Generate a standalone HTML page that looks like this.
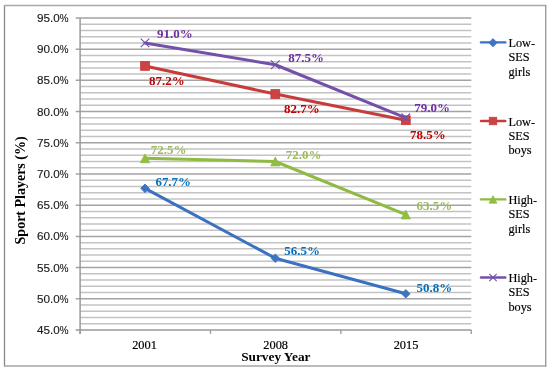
<!DOCTYPE html>
<html><head><meta charset="utf-8"><title>Sport Players chart</title>
<style>
html,body{margin:0;padding:0;background:#fff;}
svg{display:block;}
.yl{font-family:"Liberation Sans",sans-serif;font-size:11.7px;fill:#1a1a1a;stroke:#1a1a1a;stroke-width:0.15px;text-anchor:end;}
.xl{font-family:"Liberation Serif",serif;font-size:13.3px;fill:#000;stroke:#000;stroke-width:0.2px;text-anchor:middle;}
.xt{font-family:"Liberation Serif",serif;font-size:13.3px;font-weight:bold;fill:#000;text-anchor:middle;}
.yt{font-family:"Liberation Serif",serif;font-size:14px;font-weight:bold;fill:#000;text-anchor:middle;}
.dl{font-family:"Liberation Serif",serif;font-size:12.6px;font-weight:bold;}
.lg{font-family:"Liberation Serif",serif;font-size:12.3px;fill:#000;stroke:#000;stroke-width:0.15px;}
</style></head>
<body>
<svg width="550" height="371" viewBox="0 0 550 371">
<rect x="0" y="0" width="550" height="371" fill="#fff"/>
<line x1="4.5" y1="5" x2="4.5" y2="366.6" stroke="#878787" stroke-width="1.3"/>
<line x1="4" y1="5.6" x2="546.3" y2="5.6" stroke="#a9a9a9" stroke-width="1.5"/>
<line x1="545.7" y1="5" x2="545.7" y2="366.6" stroke="#9c9c9c" stroke-width="1.4"/>
<line x1="4" y1="366.1" x2="546.3" y2="366.1" stroke="#a5a5a5" stroke-width="1.5"/>
<line x1="75.70" y1="330.00" x2="471.30" y2="330.00" stroke="#9a9a9a" stroke-width="1.5"/>
<line x1="80.10" y1="323.76" x2="471.30" y2="323.76" stroke="#c3c3c3" stroke-width="1.5"/>
<line x1="80.10" y1="317.52" x2="471.30" y2="317.52" stroke="#c3c3c3" stroke-width="1.5"/>
<line x1="80.10" y1="311.28" x2="471.30" y2="311.28" stroke="#c3c3c3" stroke-width="1.5"/>
<line x1="80.10" y1="305.04" x2="471.30" y2="305.04" stroke="#c3c3c3" stroke-width="1.5"/>
<line x1="75.70" y1="298.79" x2="471.30" y2="298.79" stroke="#a3a3a3" stroke-width="1.5"/>
<line x1="80.10" y1="292.55" x2="471.30" y2="292.55" stroke="#c3c3c3" stroke-width="1.5"/>
<line x1="80.10" y1="286.31" x2="471.30" y2="286.31" stroke="#c3c3c3" stroke-width="1.5"/>
<line x1="80.10" y1="280.07" x2="471.30" y2="280.07" stroke="#c3c3c3" stroke-width="1.5"/>
<line x1="80.10" y1="273.83" x2="471.30" y2="273.83" stroke="#c3c3c3" stroke-width="1.5"/>
<line x1="75.70" y1="267.59" x2="471.30" y2="267.59" stroke="#a3a3a3" stroke-width="1.5"/>
<line x1="80.10" y1="261.35" x2="471.30" y2="261.35" stroke="#c3c3c3" stroke-width="1.5"/>
<line x1="80.10" y1="255.11" x2="471.30" y2="255.11" stroke="#c3c3c3" stroke-width="1.5"/>
<line x1="80.10" y1="248.87" x2="471.30" y2="248.87" stroke="#c3c3c3" stroke-width="1.5"/>
<line x1="80.10" y1="242.63" x2="471.30" y2="242.63" stroke="#c3c3c3" stroke-width="1.5"/>
<line x1="75.70" y1="236.38" x2="471.30" y2="236.38" stroke="#a3a3a3" stroke-width="1.5"/>
<line x1="80.10" y1="230.14" x2="471.30" y2="230.14" stroke="#c3c3c3" stroke-width="1.5"/>
<line x1="80.10" y1="223.90" x2="471.30" y2="223.90" stroke="#c3c3c3" stroke-width="1.5"/>
<line x1="80.10" y1="217.66" x2="471.30" y2="217.66" stroke="#c3c3c3" stroke-width="1.5"/>
<line x1="80.10" y1="211.42" x2="471.30" y2="211.42" stroke="#c3c3c3" stroke-width="1.5"/>
<line x1="75.70" y1="205.18" x2="471.30" y2="205.18" stroke="#a3a3a3" stroke-width="1.5"/>
<line x1="80.10" y1="198.94" x2="471.30" y2="198.94" stroke="#c3c3c3" stroke-width="1.5"/>
<line x1="80.10" y1="192.70" x2="471.30" y2="192.70" stroke="#c3c3c3" stroke-width="1.5"/>
<line x1="80.10" y1="186.46" x2="471.30" y2="186.46" stroke="#c3c3c3" stroke-width="1.5"/>
<line x1="80.10" y1="180.22" x2="471.30" y2="180.22" stroke="#c3c3c3" stroke-width="1.5"/>
<line x1="75.70" y1="173.97" x2="471.30" y2="173.97" stroke="#a3a3a3" stroke-width="1.5"/>
<line x1="80.10" y1="167.73" x2="471.30" y2="167.73" stroke="#c3c3c3" stroke-width="1.5"/>
<line x1="80.10" y1="161.49" x2="471.30" y2="161.49" stroke="#c3c3c3" stroke-width="1.5"/>
<line x1="80.10" y1="155.25" x2="471.30" y2="155.25" stroke="#c3c3c3" stroke-width="1.5"/>
<line x1="80.10" y1="149.01" x2="471.30" y2="149.01" stroke="#c3c3c3" stroke-width="1.5"/>
<line x1="75.70" y1="142.77" x2="471.30" y2="142.77" stroke="#a3a3a3" stroke-width="1.5"/>
<line x1="80.10" y1="136.53" x2="471.30" y2="136.53" stroke="#c3c3c3" stroke-width="1.5"/>
<line x1="80.10" y1="130.29" x2="471.30" y2="130.29" stroke="#c3c3c3" stroke-width="1.5"/>
<line x1="80.10" y1="124.05" x2="471.30" y2="124.05" stroke="#c3c3c3" stroke-width="1.5"/>
<line x1="80.10" y1="117.81" x2="471.30" y2="117.81" stroke="#c3c3c3" stroke-width="1.5"/>
<line x1="75.70" y1="111.56" x2="471.30" y2="111.56" stroke="#a3a3a3" stroke-width="1.5"/>
<line x1="80.10" y1="105.32" x2="471.30" y2="105.32" stroke="#c3c3c3" stroke-width="1.5"/>
<line x1="80.10" y1="99.08" x2="471.30" y2="99.08" stroke="#c3c3c3" stroke-width="1.5"/>
<line x1="80.10" y1="92.84" x2="471.30" y2="92.84" stroke="#c3c3c3" stroke-width="1.5"/>
<line x1="80.10" y1="86.60" x2="471.30" y2="86.60" stroke="#c3c3c3" stroke-width="1.5"/>
<line x1="75.70" y1="80.36" x2="471.30" y2="80.36" stroke="#a3a3a3" stroke-width="1.5"/>
<line x1="80.10" y1="74.12" x2="471.30" y2="74.12" stroke="#c3c3c3" stroke-width="1.5"/>
<line x1="80.10" y1="67.88" x2="471.30" y2="67.88" stroke="#c3c3c3" stroke-width="1.5"/>
<line x1="80.10" y1="61.64" x2="471.30" y2="61.64" stroke="#c3c3c3" stroke-width="1.5"/>
<line x1="80.10" y1="55.40" x2="471.30" y2="55.40" stroke="#c3c3c3" stroke-width="1.5"/>
<line x1="75.70" y1="49.16" x2="471.30" y2="49.16" stroke="#a3a3a3" stroke-width="1.5"/>
<line x1="80.10" y1="42.91" x2="471.30" y2="42.91" stroke="#c3c3c3" stroke-width="1.5"/>
<line x1="80.10" y1="36.67" x2="471.30" y2="36.67" stroke="#c3c3c3" stroke-width="1.5"/>
<line x1="80.10" y1="30.43" x2="471.30" y2="30.43" stroke="#c3c3c3" stroke-width="1.5"/>
<line x1="80.10" y1="24.19" x2="471.30" y2="24.19" stroke="#c3c3c3" stroke-width="1.5"/>
<line x1="75.70" y1="17.95" x2="471.30" y2="17.95" stroke="#a3a3a3" stroke-width="1.5"/>
<line x1="80.10" y1="17.95" x2="80.10" y2="333.90" stroke="#9a9a9a" stroke-width="1.5"/>
<line x1="80.10" y1="330.00" x2="80.10" y2="333.90" stroke="#9a9a9a" stroke-width="1.3"/>
<line x1="210.50" y1="330.00" x2="210.50" y2="333.90" stroke="#9a9a9a" stroke-width="1.3"/>
<line x1="340.90" y1="330.00" x2="340.90" y2="333.90" stroke="#9a9a9a" stroke-width="1.3"/>
<line x1="471.30" y1="330.00" x2="471.30" y2="333.90" stroke="#9a9a9a" stroke-width="1.3"/>
<text transform="translate(59.80,333.95) scale(1.0,1)" class="yl">45.0</text>
<text transform="translate(68.40,333.95) scale(0.84,1)" class="yl">%</text>
<text transform="translate(59.80,302.74) scale(1.0,1)" class="yl">50.0</text>
<text transform="translate(68.40,302.74) scale(0.84,1)" class="yl">%</text>
<text transform="translate(59.80,271.54) scale(1.0,1)" class="yl">55.0</text>
<text transform="translate(68.40,271.54) scale(0.84,1)" class="yl">%</text>
<text transform="translate(59.80,240.33) scale(1.0,1)" class="yl">60.0</text>
<text transform="translate(68.40,240.33) scale(0.84,1)" class="yl">%</text>
<text transform="translate(59.80,209.13) scale(1.0,1)" class="yl">65.0</text>
<text transform="translate(68.40,209.13) scale(0.84,1)" class="yl">%</text>
<text transform="translate(59.80,177.92) scale(1.0,1)" class="yl">70.0</text>
<text transform="translate(68.40,177.92) scale(0.84,1)" class="yl">%</text>
<text transform="translate(59.80,146.72) scale(1.0,1)" class="yl">75.0</text>
<text transform="translate(68.40,146.72) scale(0.84,1)" class="yl">%</text>
<text transform="translate(59.80,115.52) scale(1.0,1)" class="yl">80.0</text>
<text transform="translate(68.40,115.52) scale(0.84,1)" class="yl">%</text>
<text transform="translate(59.80,84.31) scale(1.0,1)" class="yl">85.0</text>
<text transform="translate(68.40,84.31) scale(0.84,1)" class="yl">%</text>
<text transform="translate(59.80,53.11) scale(1.0,1)" class="yl">90.0</text>
<text transform="translate(68.40,53.11) scale(0.84,1)" class="yl">%</text>
<text transform="translate(59.80,21.90) scale(1.0,1)" class="yl">95.0</text>
<text transform="translate(68.40,21.90) scale(0.84,1)" class="yl">%</text>
<text transform="translate(144.55,349) scale(0.93,1)" class="xl">2001</text>
<text transform="translate(275.65,349) scale(0.93,1)" class="xl">2008</text>
<text transform="translate(406.05,349) scale(0.93,1)" class="xl">2015</text>
<text transform="translate(275.8,361.3)" class="xt">Survey Year</text>
<text transform="translate(24.9,190.4) rotate(-90)" class="yt">Sport Players (%)</text>
<path d="M145.00,188.33 L275.30,258.23 L405.80,293.80" stroke="#3A71C0" stroke-width="3" fill="none" stroke-linejoin="round" stroke-linecap="round"/>
<polygon points="145.00,184.03 149.30,188.33 145.00,192.63 140.70,188.33" fill="#3F74C2" stroke="#3A71C0" stroke-width="0.8"/>
<polygon points="275.30,253.93 279.60,258.23 275.30,262.53 271.00,258.23" fill="#3F74C2" stroke="#3A71C0" stroke-width="0.8"/>
<polygon points="405.80,289.50 410.10,293.80 405.80,298.10 401.50,293.80" fill="#3F74C2" stroke="#3A71C0" stroke-width="0.8"/>
<path d="M145.00,65.93 L275.30,94.01 L405.80,120.23" stroke="#C63C3A" stroke-width="3" fill="none" stroke-linejoin="round" stroke-linecap="round"/>
<rect x="140.60" y="61.53" width="8.80" height="8.80" fill="#CB4442" stroke="#C63C3A" stroke-width="0.8"/>
<rect x="270.90" y="89.61" width="8.80" height="8.80" fill="#CB4442" stroke="#C63C3A" stroke-width="0.8"/>
<rect x="401.40" y="115.83" width="8.80" height="8.80" fill="#CB4442" stroke="#C63C3A" stroke-width="0.8"/>
<path d="M145.00,158.37 L275.30,161.49 L405.80,214.54" stroke="#8FBB42" stroke-width="3" fill="none" stroke-linejoin="round" stroke-linecap="round"/>
<polygon points="145.00,153.97 149.62,162.77 140.38,162.77" fill="#92BC46" stroke="#8FBB42" stroke-width="0.8"/>
<polygon points="275.30,157.09 279.92,165.89 270.68,165.89" fill="#92BC46" stroke="#8FBB42" stroke-width="0.8"/>
<polygon points="405.80,210.14 410.42,218.94 401.18,218.94" fill="#92BC46" stroke="#8FBB42" stroke-width="0.8"/>
<path d="M145.00,42.91 L275.30,64.76 L405.80,117.81" stroke="#7351A8" stroke-width="3" fill="none" stroke-linejoin="round" stroke-linecap="round"/>
<path d="M140.70,38.61L149.30,47.21M149.30,38.61L140.70,47.21" stroke="#7351A8" stroke-width="1.15" fill="none"/>
<path d="M271.00,60.46L279.60,69.06M279.60,60.46L271.00,69.06" stroke="#7351A8" stroke-width="1.15" fill="none"/>
<path d="M401.50,113.51L410.10,122.11M410.10,113.51L401.50,122.11" stroke="#7351A8" stroke-width="1.15" fill="none"/>
<text transform="translate(155.40,185.80) scale(1.03,1)" class="dl" fill="#0070C0">67.7%</text>
<text transform="translate(284.30,255.10) scale(1.03,1)" class="dl" fill="#0070C0">56.5%</text>
<text transform="translate(416.50,291.50) scale(1.03,1)" class="dl" fill="#0070C0">50.8%</text>
<text transform="translate(149.00,84.70) scale(1.03,1)" class="dl" fill="#C00000">87.2%</text>
<text transform="translate(284.10,112.60) scale(1.03,1)" class="dl" fill="#C00000">82.7%</text>
<text transform="translate(410.00,138.90) scale(1.03,1)" class="dl" fill="#C00000">78.5%</text>
<text transform="translate(150.70,153.60) scale(1.03,1)" class="dl" fill="#9BBB59">72.5%</text>
<text transform="translate(285.80,159.20) scale(1.03,1)" class="dl" fill="#9BBB59">72.0%</text>
<text transform="translate(416.50,210.00) scale(1.03,1)" class="dl" fill="#9BBB59">63.5%</text>
<text transform="translate(157.10,37.70) scale(1.03,1)" class="dl" fill="#7030A0">91.0%</text>
<text transform="translate(288.30,62.30) scale(1.03,1)" class="dl" fill="#7030A0">87.5%</text>
<text transform="translate(414.30,111.70) scale(1.03,1)" class="dl" fill="#7030A0">79.0%</text>
<line x1="481.0" y1="42.40" x2="505.3" y2="42.40" stroke="#3A71C0" stroke-width="2.4" stroke-linecap="round"/>
<polygon points="493.00,38.61 497.08,42.70 493.00,46.78 488.92,42.70" fill="#3F74C2" stroke="#3A71C0" stroke-width="0.8"/>
<text transform="translate(508.4,47.00) scale(1,1.08)" class="lg">Low-</text>
<text transform="translate(508.4,61.30) scale(1,1.08)" class="lg">SES</text>
<text transform="translate(508.4,75.60) scale(1,1.08)" class="lg">girls</text>
<line x1="481.0" y1="121.00" x2="505.3" y2="121.00" stroke="#C63C3A" stroke-width="2.4" stroke-linecap="round"/>
<rect x="489.26" y="117.26" width="7.48" height="7.48" fill="#CB4442" stroke="#C63C3A" stroke-width="0.8"/>
<text transform="translate(508.4,125.60) scale(1,1.08)" class="lg">Low-</text>
<text transform="translate(508.4,139.90) scale(1,1.08)" class="lg">SES</text>
<text transform="translate(508.4,154.20) scale(1,1.08)" class="lg">boys</text>
<line x1="481.0" y1="199.40" x2="505.3" y2="199.40" stroke="#8FBB42" stroke-width="2.4" stroke-linecap="round"/>
<polygon points="493.00,195.66 496.93,203.14 489.07,203.14" fill="#92BC46" stroke="#8FBB42" stroke-width="0.8"/>
<text transform="translate(508.4,204.00) scale(1,1.08)" class="lg">High-</text>
<text transform="translate(508.4,218.30) scale(1,1.08)" class="lg">SES</text>
<text transform="translate(508.4,232.60) scale(1,1.08)" class="lg">girls</text>
<line x1="481.0" y1="277.50" x2="505.3" y2="277.50" stroke="#7351A8" stroke-width="2.4" stroke-linecap="round"/>
<path d="M489.35,273.85L496.65,281.15M496.65,273.85L489.35,281.15" stroke="#7351A8" stroke-width="1.15" fill="none"/>
<text transform="translate(508.4,282.10) scale(1,1.08)" class="lg">High-</text>
<text transform="translate(508.4,296.40) scale(1,1.08)" class="lg">SES</text>
<text transform="translate(508.4,310.70) scale(1,1.08)" class="lg">boys</text>
</svg>
</body></html>
